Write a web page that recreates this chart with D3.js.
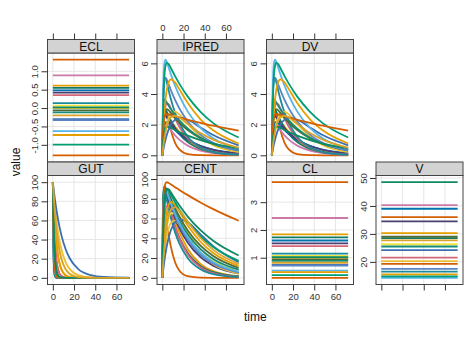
<!DOCTYPE html>
<html>
<head>
<meta charset="utf-8">
<script src="https://cdn.jsdelivr.net/npm/d3@7"></script>
<style>
  body { margin: 0; background: #fff; }
  svg { font-family: "Liberation Sans", Arial, sans-serif; }
</style>
</head>
<body>
<svg id="chart" width="474" height="338"></svg>
<script>
// simulated subjects, one row per ID, values at each sampling time
var times = [0, 0.5, 1, 2, 3, 4, 6, 8, 12, 16, 24, 36, 48, 72];
var ids = [1, 2, 3, 4, 5, 6, 7, 8, 9, 10, 11, 12, 13, 14, 15, 16, 17, 18, 19, 20];

var eclValues = [1.315, 0.888, 0.61, 0.55, 0.48, 0.42, 0.35, 0.136, 0.065, 0.0,
                 -0.063, -0.117, -0.30, -0.33, -0.625, -0.733, -0.995, -1.285, 0.02, -0.2];
var clValues = [3.72, 2.43, 1.84, 1.73, 1.62, 1.52, 1.42, 1.15, 1.07, 1.00,
                0.94, 0.89, 0.74, 0.72, 0.535, 0.48, 0.37, 0.277, 1.02, 0.82];
var vValues = [19.3, 40.3, 30.3, 28.5, 39.0, 34.5, 21.5, 16.5, 26.3, 20.3,
               29.0, 25.5, 24.2, 17.5, 14.3, 15.5, 14.8, 36.0, 48.5, 27.7];

var gutValues = [
  [100, 77.9, 60.7, 36.8, 22.3, 13.5, 4.98, 1.83, 0.25, 0.03, 0, 0, 0, 0],
  [100, 67.0, 44.9, 20.2, 9.07, 4.08, 0.82, 0.17, 0.01, 0, 0, 0, 0, 0],
  [100, 86.1, 74.1, 54.9, 40.7, 30.1, 16.5, 9.07, 2.73, 0.82, 0.07, 0, 0, 0],
  [100, 54.9, 30.1, 9.07, 2.73, 0.82, 0.07, 0.01, 0, 0, 0, 0, 0, 0],
  [100, 67.0, 44.9, 20.2, 9.07, 4.08, 0.82, 0.17, 0.01, 0, 0, 0, 0, 0],
  [100, 36.8, 13.5, 1.83, 0.25, 0.03, 0, 0, 0, 0, 0, 0, 0, 0],
  [100, 77.9, 60.7, 36.8, 22.3, 13.5, 4.98, 1.83, 0.25, 0.03, 0, 0, 0, 0],
  [100, 54.9, 30.1, 9.07, 2.73, 0.82, 0.07, 0.01, 0, 0, 0, 0, 0, 0],
  [100, 90.5, 81.9, 67.0, 54.9, 44.9, 30.1, 20.2, 9.07, 4.08, 0.82, 0.07, 0, 0],
  [100, 92.8, 86.1, 74.1, 63.8, 54.9, 40.7, 30.1, 16.5, 9.07, 2.73, 0.45, 0.07, 0],
  [100, 67.0, 44.9, 20.2, 9.07, 4.08, 0.82, 0.17, 0.01, 0, 0, 0, 0, 0],
  [100, 36.8, 13.5, 1.83, 0.25, 0.03, 0, 0, 0, 0, 0, 0, 0, 0],
  [100, 95.1, 90.5, 81.9, 74.1, 67.0, 54.9, 44.9, 30.1, 20.2, 9.07, 2.73, 0.82, 0.07],
  [100, 54.9, 30.1, 9.07, 2.73, 0.82, 0.07, 0.01, 0, 0, 0, 0, 0, 0],
  [100, 54.9, 30.1, 9.07, 2.73, 0.82, 0.07, 0.01, 0, 0, 0, 0, 0, 0],
  [100, 86.1, 74.1, 54.9, 40.7, 30.1, 16.5, 9.07, 2.73, 0.82, 0.07, 0, 0, 0],
  [100, 67.0, 44.9, 20.2, 9.07, 4.08, 0.82, 0.17, 0.01, 0, 0, 0, 0, 0],
  [100, 54.9, 30.1, 9.07, 2.73, 0.82, 0.07, 0.01, 0, 0, 0, 0, 0, 0],
  [100, 67.0, 44.9, 20.2, 9.07, 4.08, 0.82, 0.17, 0.01, 0, 0, 0, 0, 0],
  [100, 90.5, 81.9, 67.0, 54.9, 44.9, 30.1, 20.2, 9.07, 4.08, 0.82, 0.07, 0, 0]
];

var centValues = [
  [0, 21.0, 35.5, 50.8, 55.0, 53.3, 43.1, 31.8, 15.7, 7.4, 1.6, 0.16, 0.02, 0],
  [0, 32.4, 53.2, 74.0, 80.5, 80.6, 74.4, 66.6, 52.4, 41.2, 25.4, 12.3, 5.98, 1.41],
  [0, 13.7, 25.1, 42.2, 53.5, 60.6, 66.4, 65.8, 57.1, 46.4, 29.1, 14.1, 6.81, 1.58],
  [0, 44.4, 67.4, 83.7, 84.9, 81.8, 73.1, 64.8, 50.8, 39.9, 24.5, 11.8, 5.72, 1.33],
  [0, 32.6, 53.8, 75.8, 83.6, 85.0, 81.4, 75.5, 64.1, 54.3, 39.0, 23.7, 14.4, 5.31],
  [0, 62.4, 84.0, 91.7, 89.3, 85.7, 78.5, 71.9, 60.2, 50.5, 35.5, 20.9, 12.3, 4.27],
  [0, 21.7, 38.0, 58.6, 68.8, 72.9, 71.8, 65.8, 51.9, 40.0, 23.6, 10.7, 4.85, 1.00],
  [0, 44.3, 67.0, 82.7, 83.2, 79.5, 69.8, 60.8, 46.0, 34.8, 19.9, 8.63, 3.74, 0.70],
  [0, 9.43, 17.8, 31.6, 42.2, 50.3, 60.5, 65.3, 65.6, 60.3, 46.2, 28.9, 17.8, 6.70],
  [0, 7.14, 13.6, 24.6, 33.5, 40.6, 50.3, 55.6, 57.8, 54.2, 41.6, 24.6, 13.9, 4.28],
  [0, 32.7, 54.1, 76.6, 85.1, 87.3, 85.0, 80.2, 70.6, 62.1, 47.9, 32.5, 22.0, 10.1],
  [0, 62.6, 84.5, 93.1, 91.4, 88.5, 82.5, 77.0, 67.0, 58.2, 44.0, 29.0, 19.1, 8.25],
  [0, 4.84, 9.38, 17.6, 24.7, 30.9, 40.8, 48.1, 56.4, 59.2, 56.1, 44.0, 32.0, 15.8],
  [0, 44.6, 68.2, 86.0, 88.7, 87.0, 80.9, 74.5, 63.2, 53.6, 38.6, 23.6, 14.4, 5.37],
  [0, 44.6, 68.3, 86.2, 89.2, 87.6, 81.8, 75.8, 64.9, 55.6, 40.7, 25.6, 16.0, 6.32],
  [0, 13.8, 25.5, 43.6, 56.3, 64.9, 74.2, 76.9, 73.8, 67.0, 52.9, 36.5, 25.2, 12.0],
  [0, 32.8, 54.3, 77.4, 86.4, 89.2, 88.0, 84.3, 76.5, 69.2, 56.7, 42.0, 31.1, 17.1],
  [0, 45.0, 69.6, 90.0, 95.6, 96.8, 96.0, 94.6, 91.8, 89.0, 83.7, 76.3, 69.5, 57.8],
  [0, 32.8, 54.4, 77.7, 87.1, 90.2, 89.7, 86.6, 79.8, 73.4, 62.0, 48.2, 37.5, 22.6],
  [0, 9.45, 17.9, 31.9, 43.0, 51.5, 62.9, 68.9, 71.6, 68.3, 56.7, 40.3, 28.3, 13.9]
];

var ipredValues = [
  [0, 1.09, 1.84, 2.63, 2.85, 2.76, 2.23, 1.65, 0.81, 0.38, 0.08, 0.01, 0, 0],
  [0, 0.80, 1.32, 1.84, 2.00, 2.00, 1.85, 1.65, 1.30, 1.02, 0.63, 0.31, 0.15, 0.035],
  [0, 0.45, 0.83, 1.39, 1.77, 2.00, 2.19, 2.17, 1.88, 1.53, 0.96, 0.47, 0.22, 0.05],
  [0, 1.56, 2.36, 2.94, 2.98, 2.87, 2.56, 2.27, 1.78, 1.40, 0.86, 0.41, 0.20, 0.05],
  [0, 0.84, 1.38, 1.94, 2.14, 2.18, 2.09, 1.94, 1.64, 1.39, 1.00, 0.61, 0.37, 0.14],
  [0, 1.81, 2.43, 2.66, 2.59, 2.48, 2.28, 2.08, 1.75, 1.46, 1.03, 0.61, 0.36, 0.12],
  [0, 1.01, 1.77, 2.73, 3.20, 3.39, 3.34, 3.06, 2.41, 1.86, 1.10, 0.50, 0.23, 0.05],
  [0, 2.68, 4.06, 5.01, 5.04, 4.82, 4.23, 3.68, 2.79, 2.11, 1.21, 0.52, 0.23, 0.04],
  [0, 0.36, 0.68, 1.20, 1.60, 1.91, 2.30, 2.48, 2.49, 2.29, 1.76, 1.10, 0.68, 0.25],
  [0, 0.35, 0.67, 1.21, 1.65, 2.00, 2.48, 2.74, 2.85, 2.67, 2.05, 1.21, 0.68, 0.21],
  [0, 1.13, 1.87, 2.64, 2.93, 3.01, 2.93, 2.77, 2.43, 2.14, 1.65, 1.12, 0.76, 0.35],
  [0, 2.45, 3.31, 3.65, 3.58, 3.47, 3.24, 3.02, 2.63, 2.28, 1.73, 1.14, 0.75, 0.32],
  [0, 0.20, 0.39, 0.73, 1.02, 1.28, 1.69, 1.99, 2.33, 2.45, 2.32, 1.82, 1.32, 0.65],
  [0, 2.55, 3.90, 4.91, 5.07, 4.97, 4.62, 4.26, 3.61, 3.06, 2.21, 1.35, 0.82, 0.31],
  [0, 3.12, 4.78, 6.03, 6.24, 6.13, 5.72, 5.30, 4.54, 3.89, 2.85, 1.79, 1.12, 0.44],
  [0, 0.89, 1.65, 2.81, 3.63, 4.19, 4.79, 4.96, 4.76, 4.32, 3.41, 2.35, 1.63, 0.77],
  [0, 2.22, 3.67, 5.23, 5.84, 6.03, 5.95, 5.70, 5.17, 4.68, 3.83, 2.84, 2.10, 1.16],
  [0, 1.25, 1.93, 2.50, 2.66, 2.69, 2.67, 2.63, 2.55, 2.47, 2.32, 2.12, 1.93, 1.61],
  [0, 0.68, 1.12, 1.60, 1.80, 1.86, 1.85, 1.79, 1.65, 1.51, 1.28, 0.99, 0.77, 0.47],
  [0, 0.34, 0.65, 1.15, 1.55, 1.86, 2.27, 2.49, 2.58, 2.47, 2.05, 1.45, 1.02, 0.50]
];
// no residual error in this run, so DV is the same as IPRED
var dvValues = ipredValues;

var timeTicks = [0, 20, 40, 60];
var eclTicks = [-1, -0.5, 0, 0.5, 1];
var ipredTicks = [0, 2, 4, 6];
var dvTicks = [0, 2, 4, 6];
var gutTicks = [0, 20, 40, 60, 80, 100];
var centTicks = [0, 20, 40, 60, 80, 100];
var clTicks = [1, 2, 3];
var vTicks = [20, 30, 40, 50];

// one colour per ID
var idColors = ["#D55E00", "#CC79A7", "#E69F00", "#117A65", "#0072B2",
                "#4B3F72", "#D4667A", "#1B8A9A", "#F0E442", "#EBC034",
                "#4E6B35", "#168B77", "#3A6FB0", "#5B84C4", "#56B4E9",
                "#E69F00", "#009E73", "#D55E00", "#0E8A63", "#D9A22B"];

function constSeries(values) {
    return ids.map(function (id, i) {
        return times.map(function () { return values[i]; });
    });
}

var svg = d3.select("#chart");
var panelW = 87, stripH = 13.5, panelH = 109;
var colLeft = [47.5, 157, 266.5, 376];
var rowTop = [39.5, 162];
var tMax = d3.max(times);
var tickFont = "9.5px";

var fmtDecimal = function (v) { return v.toFixed(1); };
var fmtInt = function (v) { return String(v); };

var panels = [
    { name: "ECL", col: 0, row: 0, series: constSeries(eclValues), ticks: eclTicks, fmt: fmtDecimal, curve: d3.curveLinear, xLabels: false },
    { name: "IPRED", col: 1, row: 0, series: ipredValues, ticks: ipredTicks, fmt: fmtInt, curve: d3.curveMonotoneX, xLabels: true },
    { name: "DV", col: 2, row: 0, series: dvValues, ticks: dvTicks, fmt: fmtInt, curve: d3.curveMonotoneX, xLabels: false },
    { name: "GUT", col: 0, row: 1, series: gutValues, ticks: gutTicks, fmt: fmtInt, curve: d3.curveMonotoneX, xLabels: true },
    { name: "CENT", col: 1, row: 1, series: centValues, ticks: centTicks, fmt: fmtInt, curve: d3.curveMonotoneX, xLabels: false },
    { name: "CL", col: 2, row: 1, series: constSeries(clValues), ticks: clTicks, fmt: fmtInt, curve: d3.curveLinear, xLabels: true },
    { name: "V", col: 3, row: 1, series: constSeries(vValues), ticks: vTicks, fmt: fmtInt, curve: d3.curveLinear, xLabels: false }
];

function drawPanel(p) {
    var left = colLeft[p.col],
        stripTop = rowTop[p.row],
        top = stripTop + stripH,
        bottom = top + panelH;

    var x = d3.scaleLinear()
        .domain([-0.07 * tMax, 1.07 * tMax])
        .range([left, left + panelW]);

    var ext = d3.extent(d3.merge(p.series)),
        pad = 0.07 * (ext[1] - ext[0]);
    var y = d3.scaleLinear()
        .domain([ext[0] - pad, ext[1] + pad])
        .range([bottom, top]);

    var g = svg.append("g").attr("class", "panel");

    // background grid
    g.selectAll(".vgrid").data(timeTicks).enter().append("line")
        .attr("x1", function (d) { return x(d); }).attr("x2", function (d) { return x(d); })
        .attr("y1", top).attr("y2", bottom)
        .attr("stroke", "#E6E6E6").attr("stroke-width", 1);
    g.selectAll(".hgrid").data(p.ticks).enter().append("line")
        .attr("x1", left).attr("x2", left + panelW)
        .attr("y1", function (d) { return y(d); }).attr("y2", function (d) { return y(d); })
        .attr("stroke", "#E6E6E6").attr("stroke-width", 1);

    var line = d3.line()
        .x(function (d, i) { return x(times[i]); })
        .y(function (d) { return y(d); })
        .curve(p.curve);

    g.selectAll("path.series").data(p.series).enter().append("path")
        .attr("class", "series")
        .attr("d", line)
        .attr("fill", "none")
        .attr("stroke", function (d, i) { return idColors[i]; })
        .attr("stroke-width", 1.8);

    g.append("rect")
        .attr("x", left).attr("y", top).attr("width", panelW).attr("height", panelH)
        .attr("fill", "none").attr("stroke", "#444").attr("stroke-width", 1);

    // strip
    g.append("rect")
        .attr("x", left).attr("y", stripTop).attr("width", panelW).attr("height", stripH)
        .attr("fill", "#D3D3D3").attr("stroke", "#444").attr("stroke-width", 1);
    g.append("text")
        .attr("x", left + panelW / 2).attr("y", stripTop + stripH / 2)
        .attr("dy", "0.36em").attr("text-anchor", "middle")
        .attr("font-size", "12px").attr("fill", "#111")
        .text(p.name);

    // y axis, labels turned like lattice does
    var ya = g.append("g")
        .attr("transform", "translate(" + left + ",0)")
        .call(d3.axisLeft(y).tickValues(p.ticks).tickSize(6).tickFormat(p.fmt));
    ya.select(".domain").remove();
    ya.selectAll(".tick line").attr("stroke", "#333");
    ya.selectAll(".tick text")
        .attr("x", 0).attr("y", 0).attr("dy", null)
        .attr("text-anchor", "middle")
        .attr("transform", "translate(-9.5,0) rotate(-90)")
        .attr("font-size", tickFont).attr("font-family", null).attr("fill", "#333");

    // x axis: bottom for the lower row, above the strips for the upper row
    var xa;
    if (p.row === 1) {
        xa = g.append("g")
            .attr("transform", "translate(0," + bottom + ")")
            .call(d3.axisBottom(x).tickValues(timeTicks).tickSize(6).tickPadding(3)
                .tickFormat(p.xLabels ? fmtInt : function () { return ""; }));
    } else {
        xa = g.append("g")
            .attr("transform", "translate(0," + stripTop + ")")
            .call(d3.axisTop(x).tickValues(timeTicks).tickSize(6).tickPadding(3)
                .tickFormat(p.xLabels ? fmtInt : function () { return ""; }));
    }
    xa.select(".domain").remove();
    xa.selectAll(".tick line").attr("stroke", "#333");
    xa.selectAll(".tick text")
        .attr("font-size", tickFont).attr("font-family", null).attr("fill", "#333");
}

panels.forEach(drawPanel);

svg.append("text")
    .attr("x", (colLeft[0] + colLeft[3] + panelW) / 2).attr("y", 320.5)
    .attr("text-anchor", "middle").attr("font-size", "12px").attr("fill", "#111")
    .text("time");

svg.append("text")
    .attr("transform", "translate(19.5," + ((rowTop[0] + rowTop[1] + stripH + panelH) / 2) + ") rotate(-90)")
    .attr("text-anchor", "middle").attr("font-size", "12px").attr("fill", "#111")
    .text("value");
</script>
</body>
</html>
